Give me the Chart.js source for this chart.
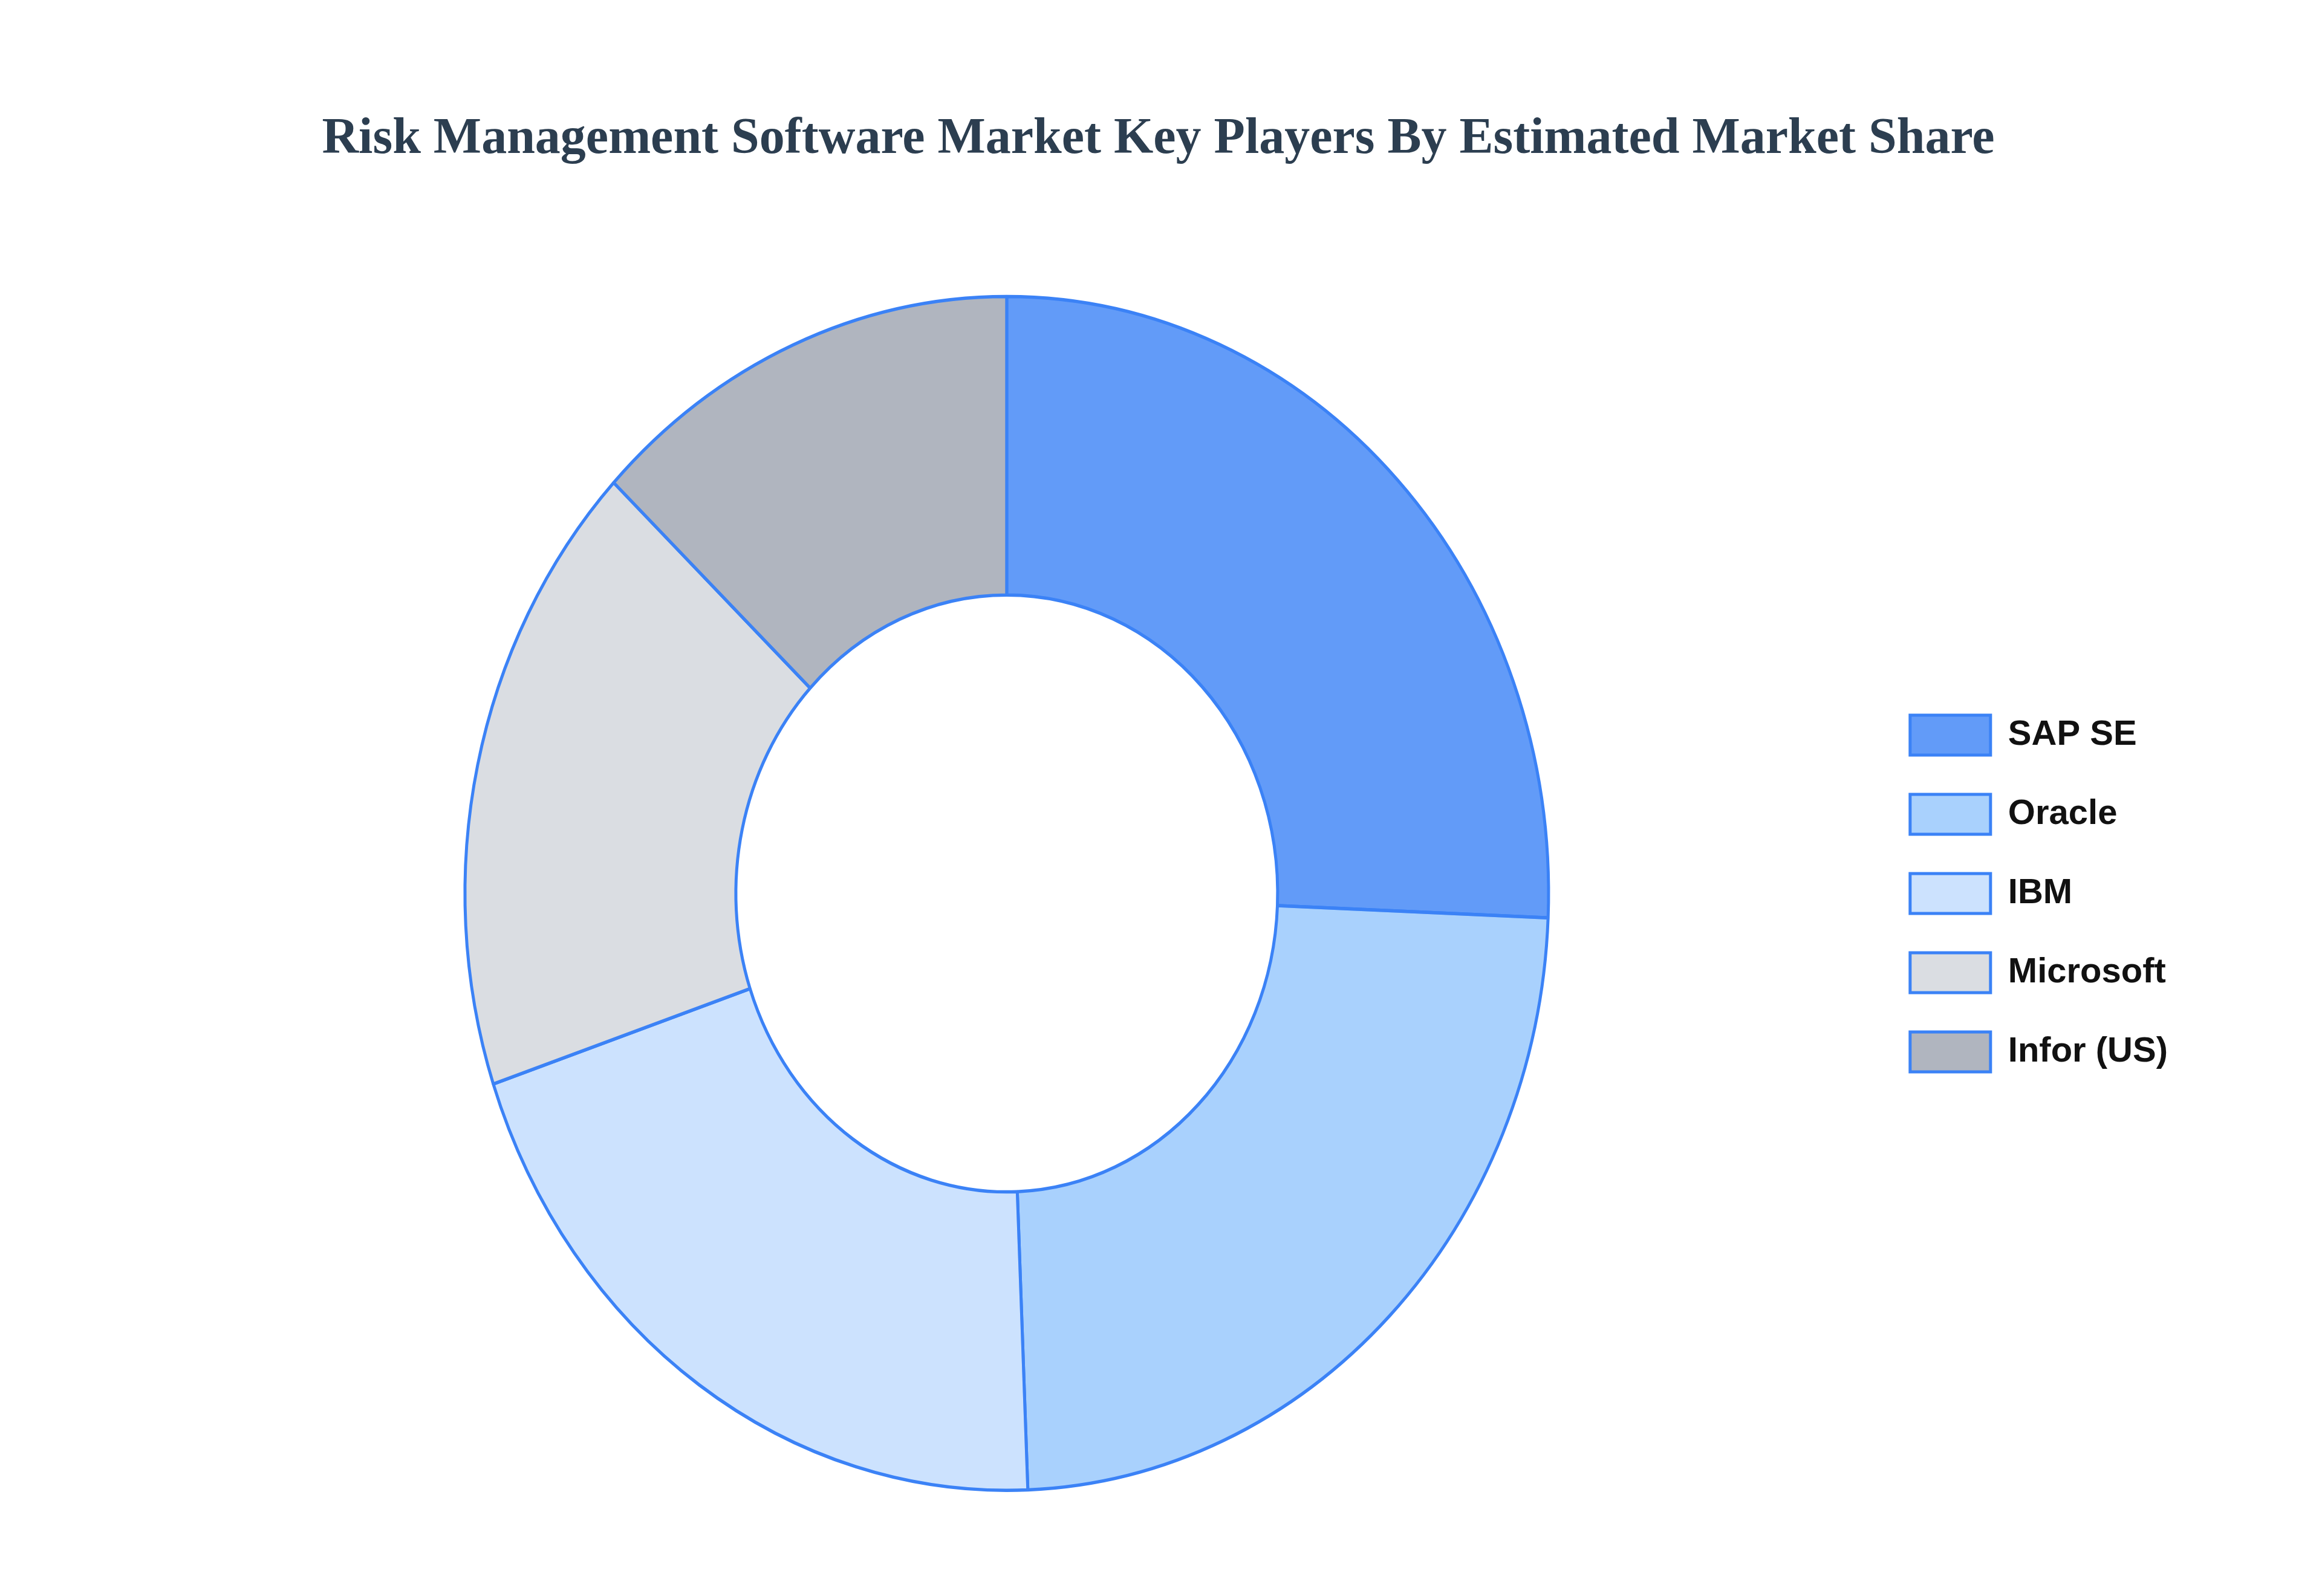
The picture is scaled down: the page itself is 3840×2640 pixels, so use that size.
<!DOCTYPE html>
<html>
<head>
<meta charset="utf-8">
<script src="https://cdn.jsdelivr.net/npm/chart.js@4.4.1/dist/chart.umd.min.js"></script>
<style>
  html { overflow: hidden; }
  body { margin: 0; padding: 0; background: #ffffff; }
  #wrap { width: 3840px; height: 2640px; position: relative; }
  #c { display: block; }
</style>
</head>
<body>
<div id="wrap"><canvas id="c"></canvas></div>
<script>
const titleText = 'Risk Management Software Market Key Players By Estimated Market Share';
const categories = ['SAP SE', 'Oracle', 'IBM', 'Microsoft', 'Infor (US)'];
const shares = [25.65, 23.73, 20.45, 17.25, 12.92];
const fillColors = [
  'rgba(59,130,246,0.8)',
  'rgba(147,197,253,0.8)',
  'rgba(191,219,254,0.8)',
  'rgba(209,213,219,0.8)',
  'rgba(156,163,175,0.8)'
];
const edgeColor = '#3b82f6';

// the reference ring is drawn slightly taller than wide
const verticalStretch = 1.102;
const ellipsePlugin = {
  id: 'ellipseRing',
  beforeDatasetsDraw(chart) {
    const a = chart.chartArea;
    const cx = (a.left + a.right) / 2;
    const cy = (a.top + a.bottom) / 2;
    const ctx = chart.ctx;
    ctx.save();
    ctx.translate(cx, cy);
    ctx.scale(1, verticalStretch);
    ctx.translate(-cx, -cy);
  },
  afterDatasetsDraw(chart) {
    chart.ctx.restore();
  }
};

new Chart(document.getElementById('c'), {
  type: 'doughnut',
  data: {
    labels: categories,
    datasets: [{
      data: shares,
      backgroundColor: fillColors,
      borderColor: edgeColor,
      borderWidth: 5,
      hoverOffset: 0,
      offset: 0,
      clip: false
    }]
  },
  plugins: [ellipsePlugin],
  options: {
    responsive: true,
    maintainAspectRatio: false,
    devicePixelRatio: 1,
    animation: false,
    cutout: '50%',
    radius: 896,
    layout: { padding: { left: 236, right: 245, top: 0, bottom: 62 } },
    plugins: {
      title: {
        display: true,
        text: titleText,
        color: '#2c3e50',
        font: { family: '"Liberation Serif", "Times New Roman", serif', size: 84, weight: 'bold' },
        padding: { top: 181, bottom: 96 }
      },
      legend: {
        display: true,
        position: 'right',
        fullSize: false,
        align: 'center',
        labels: {
          boxWidth: 133,
          boxHeight: 66,
          padding: 65,
          color: '#111111',
          font: { family: '"Liberation Sans", Arial, sans-serif', size: 58, weight: 'bold' }
        }
      },
      tooltip: { enabled: false }
    }
  }
});
</script>
</body>
</html>
